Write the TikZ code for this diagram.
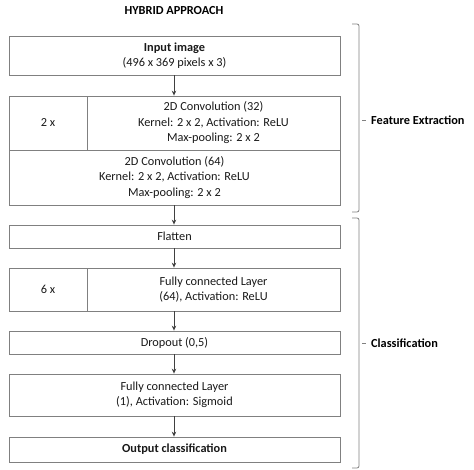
\documentclass[tikz,border=0pt]{standalone}
\usetikzlibrary{arrows.meta}
\usepackage{fontspec}
\setmainfont{Carlito}
\begin{document}
\begin{tikzpicture}[x=1pt,y=-1pt,
  box/.style={draw=black!50,line width=0.8pt,inner sep=0pt,align=center,font=\fontsize{12.3}{15.5}\selectfont,text=black!90},
  arr/.style={draw=black!75,line width=0.7pt,-{Stealth[length=5pt,width=4.5pt]}},
  brc/.style={draw=black!50,line width=0.8pt,rounded corners=2pt},
  lbl/.style={font=\bfseries\fontsize{12.3}{14}\selectfont,anchor=west,inner sep=0pt}]
\useasboundingbox (0,0) rectangle (474,470);
\node[font=\bfseries\fontsize{12.3}{14}\selectfont] (title) at (174,11) {HYBRID APPROACH};
\node[box,minimum width=331pt,minimum height=39pt] (inp) at (174.5,55.5) {\textbf{Input image}\\(496 x 369 pixels x 3)};
\node[box,minimum width=78pt,minimum height=54pt] (rep1) at (48,123) {2 x};
\node[box,minimum width=253pt,minimum height=54pt] (conv1) at (213.5,123) {2D Convolution (32)\\Kernel: 2 x 2, Activation: ReLU\\Max-pooling: 2 x 2};
\node[box,minimum width=331pt,minimum height=55pt] (conv2) at (174.5,177.5) {2D Convolution (64)\\Kernel: 2 x 2, Activation: ReLU\\Max-pooling: 2 x 2};
\node[box,minimum width=331pt,minimum height=23pt] (flat) at (174.5,236.5) {Flatten};
\node[box,minimum width=78pt,minimum height=43pt] (rep2) at (48,289.5) {6 x};
\node[box,minimum width=253pt,minimum height=43pt] (fc64) at (213.5,289.5) {Fully connected Layer\\(64), Activation: ReLU};
\node[box,minimum width=331pt,minimum height=23pt] (drop) at (174.5,342.5) {Dropout (0,5)};
\node[box,minimum width=331pt,minimum height=42pt] (fc1) at (174.5,395) {Fully connected Layer\\(1), Activation: Sigmoid};
\node[box,minimum width=331pt,minimum height=25pt] (out) at (174.5,449.5) {\textbf{Output classification}};
\coordinate (c) at (174,0);
\draw[arr] (inp.south -| c) -- (conv1.north -| c);
\draw[arr] (conv2.south -| c) -- (flat.north -| c);
\draw[arr] (flat.south -| c) -- (fc64.north -| c);
\draw[arr] (fc64.south -| c) -- (drop.north -| c);
\draw[arr] (drop.south -| c) -- (fc1.north -| c);
\draw[arr] (fc1.south -| c) -- (out.north -| c);
% braces
\coordinate (fa) at (352,24); \coordinate (fb) at (359,120); \coordinate (fc) at (352,212);
\draw[brc] (fa) -- (fa -| fb) -- (fb) (fb) -- (fc -| fb) -- (fc);
\draw[draw=black!50,line width=0.8pt] (fb) ++(3,0) -- ++(4,0);
\node[lbl] (fe) at (371,120) {Feature Extraction};
\coordinate (ca) at (352,218); \coordinate (cb) at (359,343); \coordinate (cc) at (352,468);
\draw[brc] (ca) -- (ca -| cb) -- (cb) (cb) -- (cc -| cb) -- (cc);
\draw[draw=black!50,line width=0.8pt] (cb) ++(3,0) -- ++(4,0);
\node[lbl] (cl) at (371,343) {Classification};
\end{tikzpicture}
\end{document}
